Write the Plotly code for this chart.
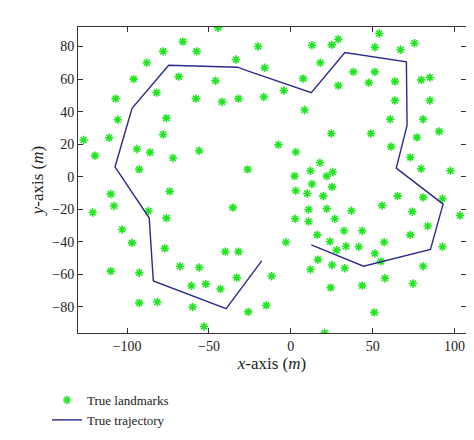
import plotly.graph_objects as go

# landmark positions (m)
lm_x = [-44.4, -66, -78, -57.5, -88, -96, -68.5, -46, -33.5, -20, -16, -107, -82, -58, -42, -32, -16.5,
        -105.7, -76, -78, -111, -126.6, -119.6, -94, -86, -72, -56, -92.6, -26.4, -110, -74, -108, -121,
        -87, -35.4, -76, -103, -97, -77, -40, -32, -110, -92.6, -67.7, -56, -33, -60.7, -52, -43, -92.6,
        -81.6, -60, -26, -15, -53,
        -4.3, 12.9, 25, 29, 18, 7.5, 29, 8.4, 54, 51.3, 67, 75.5, 38.2, 51.3, 47.6, 63.6, 79.6, 84.9,
        63.6, 84.9, 60.7, 80.8, 90.6, 24.7, 48.9, 77, -7.6, 3, 61.2, 73, 17.8, 12, 25.6, 21.9, 2.3,
        79.6, 97.5, 12.9, 3, 10, 19.8, 25.2, 65.2, 80.8, 92.6, 10.8, 21.9, 37, 55.8, 74.2, 103.3, 2.6,
        10.8, 26.8, 83.6, 16.1, 32.5, 43.6, 73, -3, 23.9, 33.7, 41.5, 57, 92.6, 28, 51.3, 16.6, 25.2,
        32.9, 12, 55, 80.8, -11.7, 57.5, 24.3, 43.6, 74.6, 51, 20.7]
lm_y = [91.5, 83, 77, 77, 70, 60, 61.5, 59, 72, 80, 67, 48, 51.7, 48, 46, 48, 49,
        35, 36, 26, 24, 22.6, 13, 17, 15, 11.5, 16, 4.5, 4.5, -10.7, -9, -18, -22,
        -21, -19, -25.4, -32.4, -40.6, -44, -46, -46, -58, -59, -55, -55.8, -62, -67, -66, -69, -77.5,
        -77, -80, -83, -79, -92,
        53, 80.8, 81, 84.5, 70, 60.3, 56, 41, 88, 79.6, 78, 82, 64.4, 64.4, 57.8, 58.6, 59.5, 61,
        46.8, 46.8, 35.3, 35.3, 27.9, 26.6, 26.6, 24.2, 19.7, 15.2, 18.5, 11.9, 8.6, 3.7, 2.9, 0.4, 0.4,
        4.9, 3.7, -4.5, -8.6, -10.3, -11.9, -6.2, -11.9, -12.7, -13.5, -20.1, -19.7, -20.9, -17.7, -21.4, -23.8, -25.8,
        -27.5, -25.8, -30.3, -35.7, -33.2, -33.2, -35.7, -40.2, -39.8, -42.7, -43, -40.2, -43, -45.1, -47.2, -50.9, -54.2,
        -56.2, -57, -52, -55, -61.1, -62.4, -68.1, -66.9, -65.6, -83.3, -96]

# trajectory waypoints (m)
traj_x = [-17.8, -39.5, -84, -86.5, -107.4, -97, -74.6, -32.5, -26.4, 12.5, 33, 70.6, 71, 64.4, 93, 85.3, 44.4, 12.5]
traj_y = [-51.7, -81, -64, -25.4, 6, 42, 68.5, 67.3, 65, 51.7, 76.3, 70.6, 31.6, 5.3, -16.8, -44.7, -55, -41.8]

fig = go.Figure()
fig.add_trace(go.Scatter(x=lm_x, y=lm_y, mode="markers", name="True landmarks",
                         marker=dict(symbol="asterisk-open", size=7, color="#22e622",
                                     line=dict(color="#22e622", width=1.6))))
fig.add_trace(go.Scatter(x=traj_x, y=traj_y, mode="lines", name="True trajectory",
                         line=dict(color="#2b2b8c", width=1.4)))

axis = dict(showgrid=False, zeroline=False, showline=True, linecolor="#333", linewidth=1,
            mirror="ticks", ticks="inside", ticklen=5, tickcolor="#333", tickfont=dict(size=14))
fig.update_xaxes(range=[-130, 107], tickvals=[-100, -50, 0, 50, 100],
                 title=dict(text="<i>x</i>-axis (<i>m</i>)", standoff=4), **axis)
fig.update_yaxes(range=[-96, 92], tickvals=[-80, -60, -40, -20, 0, 20, 40, 60, 80],
                 title=dict(text="<i>y</i>-axis (<i>m</i>)", standoff=4), **axis)
fig.update_layout(
    width=474, height=440, paper_bgcolor="white", plot_bgcolor="white",
    font=dict(family="Liberation Serif", size=14, color="#222"),
    margin=dict(l=70, r=16, t=19, b=115),
    legend=dict(x=-0.08, y=-0.17, xanchor="left", yanchor="top", bgcolor="rgba(0,0,0,0)",
                font=dict(size=13)),
)
fig.write_html("out.html")
